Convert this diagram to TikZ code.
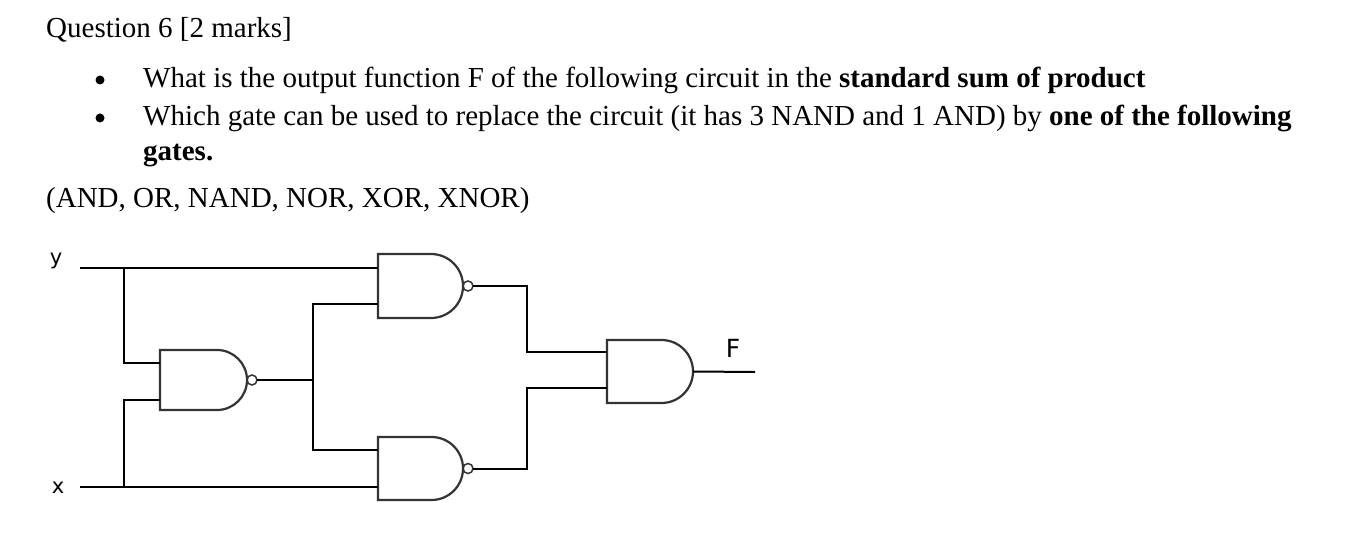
\documentclass[tikz,border=0pt]{standalone}
\usepackage{fontspec}
\setmainfont{Liberation Serif}
\setsansfont{DejaVu Sans}
\begin{document}
\begin{tikzpicture}[x=1pt,y=-1pt,
  wire/.style={line width=2pt},
  gateline/.style={line width=2.2pt,draw=black!80},
  dot/.style={circle,fill=black,inner sep=0pt,minimum size=9pt},
  txt/.style={anchor=base west,inner sep=0pt,font=\fontsize{29}{33}\selectfont}]
\useasboundingbox (0,0) rectangle (1350,548);
\newcommand\mygate[5]{% name,l,t,b,tip
  \pgfmathsetmacro\rr{(#4-#3)/2}\pgfmathsetmacro\cc{(#3+#4)/2}\pgfmathsetmacro\mm{#5-\rr}
  \pgfmathsetmacro\kk{0.552*\rr}
  \draw[gateline] (#2,#3) -- (\mm,#3) .. controls (\mm+\kk,#3) and (#5,\cc-\kk) .. (#5,\cc)
     .. controls (#5,\cc+\kk) and (\mm+\kk,#4) .. (\mm,#4) -- (#2,#4) -- cycle;
  \coordinate (#1out) at (#5,\cc);}
\newcommand\bub[1]{\draw[line width=1.5pt,draw=black!80] ([xshift=5pt]#1out) circle (5pt); \coordinate (#1b) at ([xshift=10pt]#1out);}
\node[txt] (q) at (46,38) {Question 6 [2 marks]};
\node[dot] (b1) at (100,80) {};
\node[txt] (t1) at (143,88) {What is the output function F of the following circuit in the \textbf{standard sum of product}};
\node[dot] (b2) at (100,118) {};
\node[txt] (t2) at (143,126) {Which gate can be used to replace the circuit (it has 3 NAND and 1 AND) by \textbf{one of the following}};
\node[txt] (t3) at (143,161) {\textbf{gates.}};
\node[txt] (t4) at (46,208) {(AND, OR, NAND, NOR, XOR, XNOR)};
\mygate{g1}{160}{350}{410}{247}\bub{g1}
\mygate{g2}{378}{254}{318}{463}\bub{g2}
\mygate{g3}{378}{437}{500}{463}\bub{g3}
\mygate{g4}{607}{340}{403}{693}
\node[font=\sffamily\fontsize{21}{22}\selectfont] (ly) at (56,261) {y};
\node[font=\sffamily\fontsize{21}{22}\selectfont] (lx) at (58,488) {x};
\node[font=\sffamily\fontsize{25}{26}\selectfont] (lf) at (733,348) {F};
\coordinate (ys) at (80,268); \coordinate (xs) at (80,487); \coordinate (fe) at (755,372);
\draw[wire] (ys) -- (378,268);
\draw[wire] (124,268) |- (160,363);
\draw[wire] (xs) -- (378,487);
\draw[wire] (124,487) |- (160,400);
\draw[wire] (g1b) -- ++(56,0) coordinate (j1);
\draw[wire] (378,304) -| (j1) |- (378,450);
\draw[wire] (g2b) -| (527,352) -- (607,352);
\draw[wire] (g3b) -| (527,388) -- (607,388);
\draw[wire] (g4out) -- (fe);
\end{tikzpicture}
\end{document}
